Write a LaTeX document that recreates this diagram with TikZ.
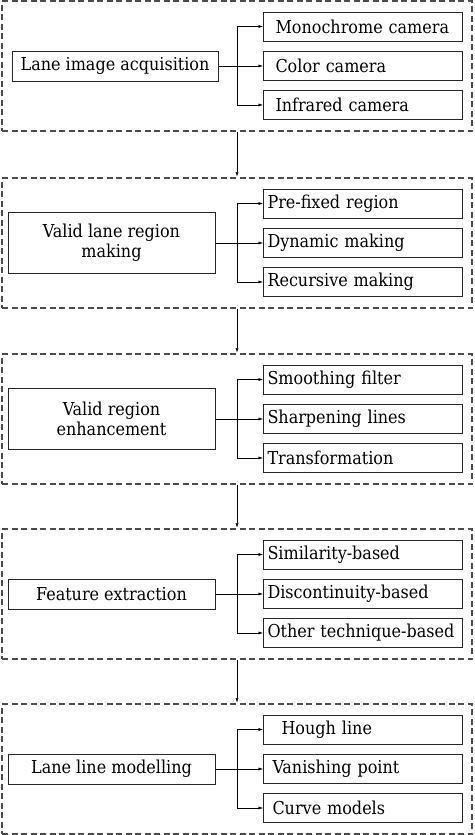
\documentclass[tikz,border=0pt]{standalone}
\usepackage{fontspec}
\setmainfont{DejaVu Serif Condensed}
\usetikzlibrary{arrows.meta}

\begin{document}
\begin{tikzpicture}[x=1pt, y=-1pt, >={Latex[length=4.5pt,width=3pt]},
    stage/.style={draw=black!70, line width=1.3pt, dash pattern=on 6pt off 3.5pt,
      minimum width=470pt, minimum height=130pt, inner sep=0pt},
    mainbox/.style={draw=black!85, line width=1pt, minimum width=207pt, minimum height=30pt,
      align=center, font=\fontsize{17.8}{20}\selectfont},
    subbox/.style={draw=black!85, line width=1pt, minimum height=29pt, text width=191pt,
      inner xsep=4pt, align=left, anchor=west, font=\fontsize{17.8}{20}\selectfont}]
  \useasboundingbox (0, 0) rectangle (474, 835);

  % stage 1
  \node[stage] (f1) at (237, 66) {};
  \node[mainbox, minimum width=206pt] (acq) at (115, 66) {Lane image acquisition};
  \node[subbox] (mono) at (263, 26.5) {\hspace{8pt}Monochrome camera};
  \node[subbox] (color) at (263, 66) {\hspace{8pt}Color camera};
  \node[subbox] (infra) at (263, 105) {\hspace{8pt}Infrared camera};
  \draw[->] (acq.east) -- (color.west);
  \draw[->] (color.west) ++(-26, 0) |- (mono.west);
  \draw[->] (color.west) ++(-26, 0) |- (infra.west);

  % stage 2
  \node[stage] (f2) at (237, 243) {};
  \node[mainbox, minimum height=61pt] (valid) at (111.5, 243) {Valid lane region\\making};
  \node[subbox] (prefix) at (263, 203.5) {Pre-fixed region};
  \node[subbox] (dyn) at (263, 243) {Dynamic making};
  \node[subbox] (rec) at (263, 282) {Recursive making};
  \draw[->] (valid.east) -- (dyn.west);
  \draw[->] (dyn.west) ++(-26, 0) |- (prefix.west);
  \draw[->] (dyn.west) ++(-26, 0) |- (rec.west);

  % stage 3
  \node[stage] (f3) at (237, 419) {};
  \node[mainbox, minimum height=61pt] (enh) at (111.5, 419) {Valid region\\enhancement};
  \node[subbox] (smooth) at (263, 379.5) {Smoothing filter};
  \node[subbox] (sharp) at (263, 419) {Sharpening lines};
  \node[subbox] (trans) at (263, 458) {Transformation};
  \draw[->] (enh.east) -- (sharp.west);
  \draw[->] (sharp.west) ++(-26, 0) |- (smooth.west);
  \draw[->] (sharp.west) ++(-26, 0) |- (trans.west);

  % stage 4
  \node[stage] (f4) at (237, 594) {};
  \node[mainbox] (feat) at (111.5, 594) {Feature extraction};
  \node[subbox] (simil) at (263, 554.5) {Similarity-based};
  \node[subbox] (discon) at (263, 594) {Discontinuity-based};
  \node[subbox] (other) at (263, 633) {\mbox{Other technique-based}};
  \draw[->] (feat.east) -- (discon.west);
  \draw[->] (discon.west) ++(-26, 0) |- (simil.west);
  \draw[->] (discon.west) ++(-26, 0) |- (other.west);

  % stage 5
  \node[stage] (f5) at (237, 769) {};
  \node[mainbox] (model) at (111.5, 769) {Lane line modelling};
  \node[subbox] (hough) at (263, 729.5) {\hspace{14pt}Hough line};
  \node[subbox] (vanish) at (263, 769) {\hspace{5pt}Vanishing point};
  \node[subbox] (curve) at (263, 808) {\hspace{5pt}Curve models};
  \draw[->] (model.east) -- (vanish.west);
  \draw[->] (vanish.west) ++(-26, 0) |- (hough.west);
  \draw[->] (vanish.west) ++(-26, 0) |- (curve.west);

  % between stages
  \draw[->, shorten >=0.8pt] (f1.south) -- (f2.north);
  \draw[->, shorten >=0.8pt] (f2.south) -- (f3.north);
  \draw[->, shorten >=0.8pt] (f3.south) -- (f4.north);
  \draw[->, shorten >=0.8pt] (f4.south) -- (f5.north);
\end{tikzpicture}
\end{document}
